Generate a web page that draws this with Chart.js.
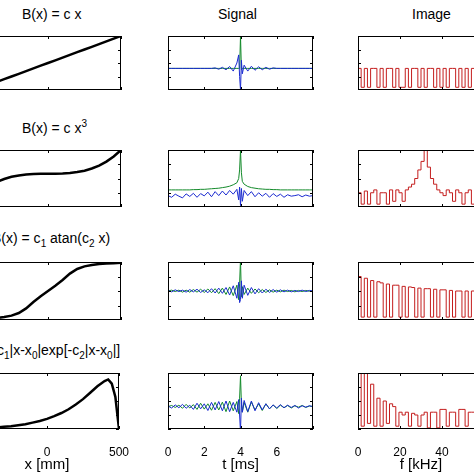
<!DOCTYPE html>
<html>
<head>
<meta charset="utf-8">
<script src="https://cdn.jsdelivr.net/npm/chart.js@4"></script>
<style>
  body { margin: 0; width: 474px; height: 474px; overflow: hidden; background: #fff; position: relative; font-family: "Liberation Sans", Arial, sans-serif; }
  .box { position: absolute; }
  .ttl { position: absolute; font-size: 14px; color: #000; white-space: nowrap; }
  sub { font-size: 10px; }
  sup { font-size: 10px; }
</style>
</head>
<body>
<div class="ttl" style="left:22px;top:6px">B(x) = c x</div>
<div class="ttl" style="left:218px;top:6px">Signal</div>
<div class="ttl" style="left:412px;top:6px">Image</div>
<div class="ttl" style="left:22px;top:118px">B(x) = c x<sup>3</sup></div>
<div class="ttl" style="left:-8px;top:230px">B(x) = c<sub>1</sub> atan(c<sub>2</sub> x)</div>
<div class="ttl" style="left:-3px;top:342px">c<sub>1</sub>|x-x<sub>0</sub>|exp[-c<sub>2</sub>|x-x<sub>0</sub>|]</div>

<div id="grid"></div>

<script>
// field position [mm]
const posX = [-500,-450,-400,-350,-300,-250,-200,-150,-100,-50,0,50,100,150,200,250,300,350,400,450,500];
const fieldLin = [-1,-0.9,-0.8,-0.7,-0.6,-0.5,-0.4,-0.3,-0.2,-0.1,0,0.1,0.2,0.3,0.4,0.5,0.6,0.7,0.8,0.9,1];
const fieldCub = [-1,-0.73,-0.51,-0.34,-0.22,-0.13,-0.07,-0.03,-0.01,-0.002,0,0.002,0.01,0.03,0.07,0.13,0.22,0.34,0.51,0.73,1];
const fieldAtan = [-0.97,-0.96,-0.95,-0.93,-0.9,-0.85,-0.76,-0.6,-0.38,-0.18,0,0.18,0.38,0.6,0.76,0.85,0.9,0.93,0.95,0.96,0.97];
const posX4 = [-500,-450,-400,-350,-300,-250,-200,-150,-100,-50,0,50,100,150,200,250,300,350,400,425,450,475,500];
const fieldExp = [0.01,0.015,0.02,0.03,0.04,0.05,0.07,0.09,0.12,0.15,0.19,0.24,0.3,0.37,0.46,0.56,0.68,0.8,0.9,0.93,0.85,0.6,0];

// signal time [ms]
const sigT = [0,0.2,0.4,0.6,0.8,1,1.2,1.4,1.6,1.8,2,2.2,2.4,2.6,2.8,3,3.2,3.4,3.6,3.8,3.9,3.95,4,4.05,4.1,4.2,4.4,4.6,4.8,5,5.2,5.4,5.6,5.8,6,6.2,6.4,6.6,6.8,7,7.2,7.4,7.6,7.8,8];
const sig1Blue = [0,0,0,0,0,0,0,0,0,0,0,0,0,0.02,-0.03,0.04,-0.05,0.07,-0.1,0.2,0.5,-0.3,-0.8,0.3,-0.2,0.12,-0.1,0.08,-0.07,0.06,-0.05,0.04,-0.03,0.02,0,0,0,0,0,0,0,0,0,0,0];
const sig1Green = [0,0,0,0,0,0,0,0,0,0,0,0,0,0,0,0,0,0,0,0,0,0,1.2,-0.05,0,0,0,0,0,0,0,0,0,0,0,0,0,0,0,0,0,0,0,0,0];
const sig2Blue = [-0.6,-0.66,-0.55,-0.62,-0.68,-0.54,-0.63,-0.52,-0.66,-0.53,-0.61,-0.48,-0.64,-0.46,-0.6,-0.44,-0.58,-0.42,-0.55,-0.38,-0.75,-0.3,-0.95,-0.35,-0.8,-0.42,-0.6,-0.46,-0.64,-0.5,-0.62,-0.52,-0.66,-0.53,-0.63,-0.55,-0.66,-0.57,-0.62,-0.6,-0.57,-0.64,-0.58,-0.62,-0.6];
const sig2Green = [-0.4,-0.4,-0.4,-0.4,-0.4,-0.4,-0.4,-0.39,-0.39,-0.38,-0.38,-0.37,-0.36,-0.35,-0.34,-0.32,-0.3,-0.27,-0.22,-0.15,0,0.3,1,0.2,-0.1,-0.2,-0.28,-0.32,-0.34,-0.36,-0.37,-0.38,-0.38,-0.39,-0.39,-0.4,-0.4,-0.4,-0.4,-0.4,-0.4,-0.4,-0.4,-0.4,-0.4];
const sig3Blue = [0.02,-0.03,0.04,-0.02,0.03,-0.04,0.05,-0.03,0.06,-0.05,0.04,-0.06,0.08,-0.07,0.1,-0.08,0.12,-0.14,0.18,-0.25,0.3,-0.4,-0.3,0.35,-0.25,0.2,-0.15,0.12,-0.1,0.08,-0.07,0.06,-0.05,0.05,-0.04,0.04,-0.03,0.03,-0.03,0.02,-0.02,0.03,-0.02,0.02,0];
const sig3Green = [0,0.03,-0.02,0.03,-0.04,0.03,-0.04,0.05,-0.04,0.06,-0.05,0.07,-0.06,0.08,-0.09,0.1,-0.12,0.14,-0.16,0.2,-0.3,0.25,1.1,-0.2,0.15,-0.12,0.1,-0.08,0.07,-0.06,0.05,-0.05,0.04,-0.04,0.03,-0.03,0.03,-0.02,0.02,-0.03,0.02,-0.02,0.02,-0.01,0];
const sig4Blue = [0.02,-0.05,0.06,-0.04,0.08,-0.06,0.05,-0.1,0.12,-0.08,0.1,-0.14,0.15,-0.12,0.18,-0.15,0.2,-0.18,0.15,-0.2,0.25,-0.3,-0.9,0.3,-0.2,0.22,-0.18,0.2,-0.15,0.14,-0.12,0.1,-0.08,0.06,-0.05,0.07,-0.04,0.05,-0.03,0.04,-0.05,0.03,-0.02,0.03,0];
const sig4Green = [0,0.04,-0.03,0.05,-0.06,0.08,-0.05,0.07,-0.1,0.12,-0.09,0.1,-0.13,0.15,-0.12,0.16,-0.18,0.2,-0.15,0.18,-0.25,0.3,1.1,0.1,-0.2,0.15,-0.2,0.16,-0.12,0.1,-0.14,0.1,-0.08,0.06,-0.07,0.05,-0.04,0.04,-0.05,0.03,-0.02,0.04,-0.03,0.02,0];

// image frequency [kHz]
const imgF = [0,1.5,3,4.5,6,7.5,9,10.5,12,13.5,15,16.5,18,19.5,21,22.5,24,25.5,27,28.5,30,31.5,33,34.5,36,37.5,39,40.5,42,43.5,45,46.5,48,49.5,51,52.5,54,55.5,57,58.5,60];
const img1 = [0.4,0.05,0.4,0.05,0.4,0.4,0.05,0.4,0.05,0.4,0.4,0.05,0.4,0.05,0.05,0.4,0.05,0.4,0.4,0.05,0.4,0.05,0.4,0.4,0.05,0.4,0.05,0.4,0.05,0.4,0.4,0.05,0.4,0.05,0.4,0.05,0.4,0.4,0.05,0.4,0.4];
const img2 = [0.25,0.05,0.28,0.05,0.25,0.3,0.05,0.25,0.25,0.05,0.3,0.1,0.3,0.25,0.1,0.3,0.35,0.4,0.5,0.65,0.8,1,0.7,0.5,0.4,0.3,0.25,0.2,0.3,0.25,0.1,0.3,0.25,0.05,0.25,0.3,0.05,0.25,0.25,0.05,0.25];
const img3 = [0.75,0.05,0.72,0.05,0.68,0.05,0.66,0.64,0.05,0.62,0.05,0.6,0.6,0.05,0.58,0.05,0.57,0.56,0.05,0.55,0.05,0.54,0.54,0.05,0.53,0.05,0.52,0.52,0.05,0.51,0.05,0.5,0.5,0.05,0.5,0.05,0.5,0.5,0.05,0.5,0.5];
const img4 = [1,0.05,1,0.1,0.8,0.05,0.55,0.05,0.5,0.1,0.45,0.4,0.05,0.3,0.25,0.3,0.05,0.28,0.25,0.05,0.25,0.3,0.02,0.3,0.3,0.02,0.35,0.35,0.05,0.3,0.3,0.05,0.35,0.35,0.05,0.3,0.3,0.05,0.3,0.3,0.3];

const xy = (xs, ys) => xs.map((x, i) => ({ x: x, y: ys[i] }));
const line = (xs, ys, color, w, stepped) => ({ data: xy(xs, ys), borderColor: color, borderWidth: w, pointRadius: 0, stepped: !!stepped, tension: 0 });

const BLACK = '#000', BLUE = '#1a2ad0', GREEN = '#138a2a', RED = '#c41e1e';
const PAD = 16;
const cols = [
  { left: -25, width: 146, xmin: -500, xmax: 500, step: 500, label: 'x [mm]' },
  { left: 168, width: 145, xmin: 0, xmax: 8, step: 2, label: 't [ms]' },
  { left: 358, width: 126, xmin: 0, xmax: 60, step: 20, label: 'f [kHz]' }
];
const rows = [{ top: 36, h: 54 }, { top: 150, h: 57 }, { top: 262, h: 58 }, { top: 373, h: 56 }];

const panels = [
  [[line(posX, fieldLin, BLACK, 2.5)], -1, 1],
  [[line(sigT, sig1Blue, BLUE, 1), line(sigT, sig1Green, GREEN, 1)], -0.8, 1.2],
  [[line(imgF, img1, RED, 1, true)], 0, 1],
  [[line(posX, fieldCub, BLACK, 2.5)], -1.4, 1],
  [[line(sigT, sig2Blue, BLUE, 1), line(sigT, sig2Green, GREEN, 1)], -1, 1],
  [[line(imgF, img2, RED, 1, true)], 0, 1],
  [[line(posX, fieldAtan, BLACK, 2.5)], -1, 1],
  [[line(sigT, sig3Blue, BLUE, 1), line(sigT, sig3Green, GREEN, 1)], -1, 1],
  [[line(imgF, img3, RED, 1, true)], 0, 1],
  [[line(posX4, fieldExp, BLACK, 2.5)], 0, 1.05],
  [[line(sigT, sig4Blue, BLUE, 1), line(sigT, sig4Green, GREEN, 1)], -0.8, 1.2],
  [[line(imgF, img4, RED, 1, true)], 0, 1]
];

// box frame with small inward tick marks, matlab style
const frame = {
  id: 'frame',
  afterDraw(chart) {
    const { ctx, chartArea: a, scales } = chart;
    ctx.save();
    ctx.strokeStyle = '#000';
    ctx.lineWidth = 1;
    ctx.strokeRect(a.left + 0.5, a.top + 0.5, a.right - a.left - 1, a.bottom - a.top - 1);
    ctx.beginPath();
    scales.x.ticks.forEach(t => {
      const px = Math.round(scales.x.getPixelForValue(t.value)) + 0.5;
      ctx.moveTo(px, a.bottom); ctx.lineTo(px, a.bottom - 3);
      ctx.moveTo(px, a.top); ctx.lineTo(px, a.top + 3);
    });
    scales.y.ticks.forEach(t => {
      const py = Math.round(scales.y.getPixelForValue(t.value)) + 0.5;
      ctx.moveTo(a.left, py); ctx.lineTo(a.left + 3, py);
      ctx.moveTo(a.right, py); ctx.lineTo(a.right - 3, py);
    });
    ctx.stroke();
    ctx.restore();
  }
};

const grid = document.getElementById('grid');
panels.forEach((p, i) => {
  const r = Math.floor(i / 3), c = i % 3;
  const col = cols[c], row = rows[r];
  const bottom = r === 3;
  const h = bottom ? row.h + 45 : row.h;
  const div = document.createElement('div');
  div.className = 'box';
  div.style.cssText = `left:${col.left - PAD}px;top:${row.top}px;width:${col.width + 2 * PAD}px;height:${h}px`;
  const cv = document.createElement('canvas');
  div.appendChild(cv);
  grid.appendChild(div);
  new Chart(cv, {
    type: 'line',
    data: { datasets: p[0] },
    plugins: [frame],
    options: {
      responsive: true, maintainAspectRatio: false, animation: false,
      layout: { padding: { left: PAD, right: PAD, top: 0, bottom: 0 } },
      plugins: { legend: { display: false }, tooltip: { enabled: false } },
      scales: {
        x: {
          type: 'linear', min: col.xmin, max: col.xmax,
          grid: { display: false },
          border: { display: false },
          ticks: {
            display: bottom, stepSize: col.step, color: '#000', padding: 8,
            font: { size: 12, family: 'Liberation Sans' },
            callback: v => (v === col.xmax && c === 1) || (v === col.xmin && c === 0) ? '' : v
          },
          title: { display: bottom, text: col.label, color: '#000', padding: 0, font: { size: 15, family: 'Liberation Sans' } },
          afterFit: s => { s.height = bottom ? 45 : 0; }
        },
        y: {
          min: p[1], max: p[2],
          grid: { display: false },
          border: { display: false },
          ticks: { display: false, count: 5 },
          afterFit: s => { s.width = 0; }
        }
      }
    }
  });
});
</script>
</body>
</html>
